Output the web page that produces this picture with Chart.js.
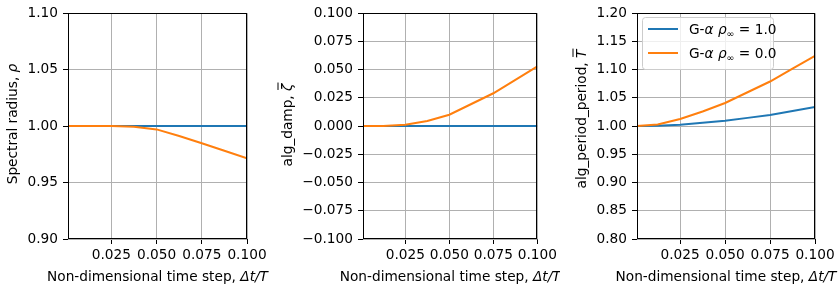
<!DOCTYPE html>
<html>
<head>
<meta charset="utf-8">
<script src="https://cdn.jsdelivr.net/npm/chart.js@4/dist/chart.umd.min.js"></script>
<style>
  body { margin: 0; background: #fff; }
  #wrap { position: relative; width: 839px; height: 290px; }
  canvas { position: absolute; top: 0; }
</style>
</head>
<body>
<div id="wrap">
  <canvas id="c1" width="270" height="290" style="left:0px"></canvas>
  <canvas id="c2" width="290" height="290" style="left:270px"></canvas>
  <canvas id="c3" width="279" height="290" style="left:560px"></canvas>
</div>
<script>
// time steps (x) and the tick labels
const dtSteps = [0.001, 0.0125, 0.025, 0.0375, 0.05, 0.0625, 0.075, 0.0875, 0.1];
const xTicks = [0.025, 0.05, 0.075, 0.1];

// spectral radius
const rhoG1 = [1, 1, 1, 1, 1, 1, 1, 1, 1];
const rhoG0 = [1.0, 1.0, 1.0, 0.9995, 0.9971, 0.9913, 0.9848, 0.9782, 0.9715];
const yTicksRho = [0.90, 0.95, 1.00, 1.05, 1.10];

// algorithmic damping
const dampG1 = [0, 0, 0, 0, 0, 0, 0, 0, 0];
const dampG0 = [0, 0.0002, 0.0012, 0.0045, 0.0101, 0.0196, 0.0291, 0.041, 0.0529];
const yTicksDamp = [-0.1, -0.075, -0.05, -0.025, 0, 0.025, 0.05, 0.075, 0.1];

// period elongation
const periodG1 = [1.0, 1.0006, 1.0026, 1.0058, 1.0096, 1.0146, 1.0196, 1.0268, 1.034];
const periodG0 = [1.0, 1.003, 1.0126, 1.026, 1.041, 1.060, 1.079, 1.102, 1.1244];
const yTicksPeriod = [0.80, 0.85, 0.90, 0.95, 1.00, 1.05, 1.10, 1.15, 1.20];

const seriesNames = ['G-α ρ∞ = 1.0', 'G-α ρ∞ = 0.0'];
const BLUE = '#1f77b4', ORANGE = '#ff7f0e';
const FONT = '"DejaVu Sans", sans-serif';
const FS = 13.7;

// draw text made of pieces (normal / italic / subscript / overbar)
function drawRich(ctx, parts, x, y, align) {
  let total = 0;
  parts.forEach(p => {
    ctx.font = (p.it ? 'italic ' : '') + (p.sz || FS) + 'px ' + FONT;
    p.w = ctx.measureText(p.t).width;
    total += p.w;
  });
  let cx = align === 'center' ? x - total / 2 : x;
  ctx.textBaseline = 'alphabetic';
  ctx.textAlign = 'left';
  parts.forEach(p => {
    ctx.font = (p.it ? 'italic ' : '') + (p.sz || FS) + 'px ' + FONT;
    ctx.fillText(p.t, cx, y + (p.dy || 0));
    if (p.bar) {
      ctx.beginPath();
      ctx.moveTo(cx + 1, y - p.bar);
      ctx.lineTo(cx + p.w + 1, y - p.bar);
      ctx.lineWidth = 1;
      ctx.stroke();
    }
    cx += p.w;
  });
}

function legendParts(val) {
  return [{t: 'G-'}, {t: 'α', it: true}, {t: ' '}, {t: 'ρ', it: true}, {t: '∞', sz: 9.5, dy: 3}, {t: ' = ' + val}];
}

const xTitle = [{t: 'Non-dimensional time step, '}, {t: 'Δt/T', it: true}];

function makePanel(id, cfg) {
  const fmt = v => {
    if (Math.abs(v) < 1e-9) v = 0;
    return v.toFixed(cfg.dec).replace('-', '\u2212');
  };
  const decor = {
    id: 'decor',
    afterDraw(chart) {
      const ctx = chart.ctx, a = chart.chartArea;
      ctx.save();
      ctx.strokeStyle = '#000';
      ctx.lineWidth = 1;
      ctx.strokeRect(Math.round(a.left) + 0.5, Math.round(a.top) + 0.5,
        Math.round(a.right - a.left) - 1, Math.round(a.bottom - a.top) - 1);
      ctx.fillStyle = '#000';
      ctx.strokeStyle = '#000';
      drawRich(ctx, xTitle, (a.left + a.right) / 2, 281, 'center');
      ctx.translate(cfg.yTitleX, cfg.yTitleY);
      ctx.rotate(-Math.PI / 2);
      drawRich(ctx, cfg.yTitle, 0, 0, 'center');
      ctx.restore();
      if (cfg.legend) {
        ctx.save();
        const bx = a.left + 5.5, by = 17.5, bw = 131, bh = 52;
        ctx.beginPath();
        ctx.roundRect(bx, by, bw, bh, 3);
        ctx.fillStyle = 'rgba(255,255,255,0.8)';
        ctx.fill();
        ctx.strokeStyle = '#cccccc';
        ctx.lineWidth = 1;
        ctx.stroke();
        [[BLUE, '1.0', 29], [ORANGE, '0.0', 53]].forEach(([col, val, ly]) => {
          ctx.beginPath();
          ctx.moveTo(a.left + 11, ly);
          ctx.lineTo(a.left + 41, ly);
          ctx.strokeStyle = col;
          ctx.lineWidth = 2;
          ctx.stroke();
          ctx.fillStyle = '#000';
          drawRich(ctx, legendParts(val), a.left + 52, ly + 5, 'left');
        });
        ctx.restore();
      }
    }
  };
  new Chart(document.getElementById(id), {
    type: 'line',
    data: {
      labels: dtSteps,
      datasets: [
        { label: seriesNames[0], data: dtSteps.map((x, i) => ({x, y: cfg.blue[i]})),
          borderColor: BLUE, borderWidth: 2, pointRadius: 0, order: 1 },
        { label: seriesNames[1], data: dtSteps.map((x, i) => ({x, y: cfg.orange[i]})),
          borderColor: ORANGE, borderWidth: 2, pointRadius: 0, order: 0 }
      ]
    },
    options: {
      responsive: false,
      animation: false,
      devicePixelRatio: 1,
      layout: { padding: { left: 0, right: cfg.rightPad, top: 10, bottom: 0 } },
      plugins: { legend: { display: false }, tooltip: { enabled: false } },
      scales: {
        x: {
          type: 'linear', min: dtSteps[0], max: dtSteps[dtSteps.length - 1],
          afterBuildTicks: s => { s.ticks = xTicks.map(v => ({value: v})); },
          afterFit: s => { s.height = 51; },
          grid: { color: '#b0b0b0', lineWidth: 1, tickColor: '#000', tickLength: 5 },
          border: { display: false },
          ticks: { font: { size: FS, family: FONT }, color: '#000', padding: 3,
                   maxRotation: 0, autoSkip: false, callback: v => v.toFixed(3) }
        },
        y: {
          min: cfg.yTicks[0], max: cfg.yTicks[cfg.yTicks.length - 1],
          afterBuildTicks: s => { s.ticks = cfg.yTicks.map(v => ({value: v})); },
          afterFit: s => { s.width = cfg.yWidth; },
          grid: { color: '#b0b0b0', lineWidth: 1, tickColor: '#000', tickLength: 5 },
          border: { display: false },
          ticks: { font: { size: FS, family: FONT }, color: '#000', padding: 5,
                   autoSkip: false, callback: fmt }
        }
      }
    },
    plugins: [decor]
  });
}

makePanel('c1', { blue: rhoG1, orange: rhoG0, yTicks: yTicksRho, dec: 2,
  yWidth: 68, rightPad: 23, yTitleX: 17, yTitleY: 124,
  yTitle: [{t: 'Spectral radius, '}, {t: 'ρ', it: true}] });
makePanel('c2', { blue: dampG1, orange: dampG0, yTicks: yTicksDamp, dec: 3,
  yWidth: 93, rightPad: 18, yTitleX: 22, yTitleY: 125,
  yTitle: [{t: 'alg_damp, '}, {t: 'ζ', it: true, bar: 14}] });
makePanel('c3', { blue: periodG1, orange: periodG0, yTicks: yTicksPeriod, dec: 2,
  yWidth: 77, rightPad: 24, yTitleX: 26, yTitleY: 119, legend: true,
  yTitle: [{t: 'alg_period_period, '}, {t: 'T', it: true, bar: 13}] });
</script>
</body>
</html>
